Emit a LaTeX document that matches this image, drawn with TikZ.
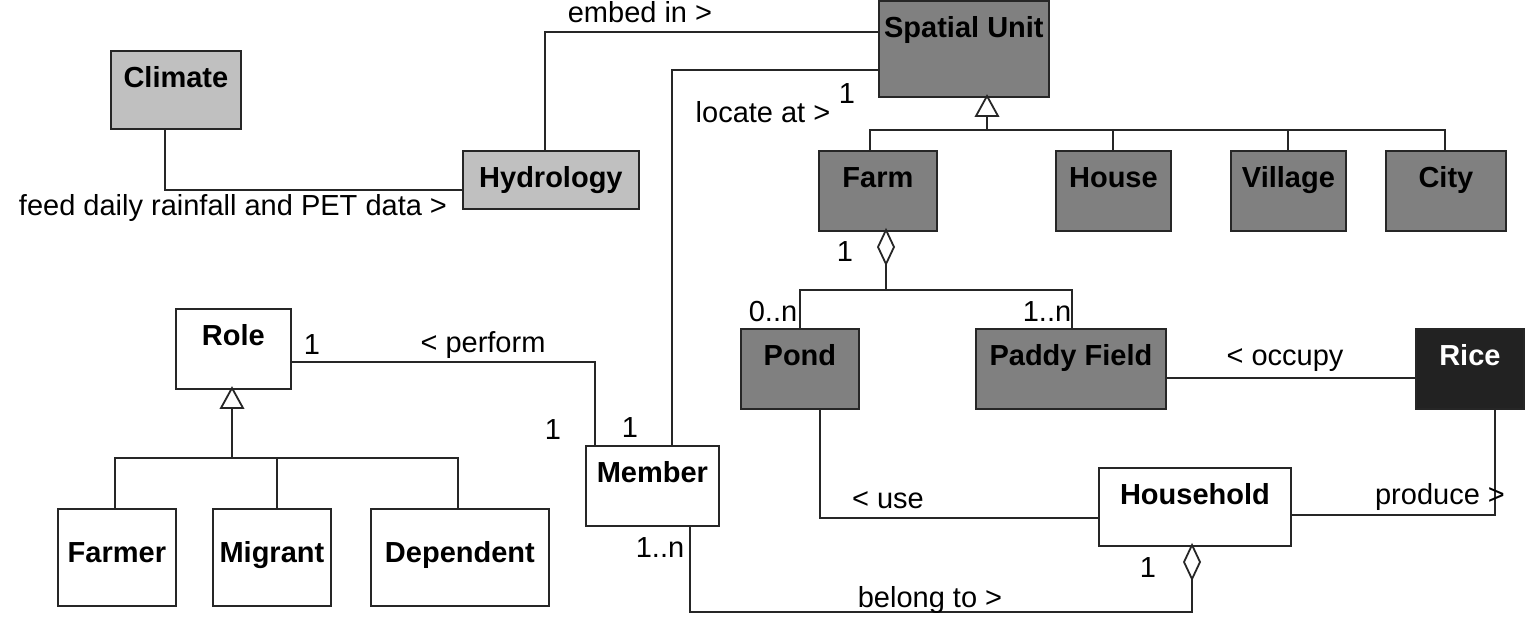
\documentclass[tikz,border=0pt]{standalone}
\usepackage{fontspec}
\setmainfont{Liberation Sans}
\usetikzlibrary{calc}
\definecolor{dg}{HTML}{808080}
\definecolor{lg}{HTML}{C0C0C0}
\definecolor{bk}{HTML}{222222}
\tikzset{
 btxt/.style={font=\fontsize{14.5}{16}\selectfont\bfseries,inner sep=0pt,anchor=base},
 ltxt/.style={font=\fontsize{14.5}{16}\selectfont,inner sep=0pt},
 ln/.style={draw=black!85,line width=0.9pt},
 boxst/.style={draw=black!85,line width=0.9pt,inner sep=0pt,anchor=north west},
}
\newcommand{\bx}[8]{%
 \pgfmathsetmacro{\ww}{(#4-#2)*0.5}\pgfmathsetmacro{\hh}{(#5-#3)*0.5}%
 \node[boxst,fill=#6,minimum width=\ww pt,minimum height=\hh pt] (#1) at (#2,#3) {};
 \node[btxt,text=#8] (#1t) at ($(#1.north)+(0,37)$) {#7};}
\newcommand{\dia}[2]{\draw[ln,fill=white] (#1,#2)--(#1-8,#2+17)--(#1,#2+34)--(#1+8,#2+17)--cycle;}
\newcommand{\tri}[2]{\draw[ln,fill=white] (#1,#2)--(#1-11,#2+20)--(#1+11,#2+20)--cycle;}
\begin{document}
\begin{tikzpicture}[x=0.5pt,y=-0.5pt]
\useasboundingbox[fill=white] (0,0) rectangle (1525,618);
\draw[ln] (545,150) |- (878,32);
\draw[ln] (165,128) |- (462,190);
\draw[ln] (672,445) |- (878,70);
\draw[ln] (987,116) -- (987,130);
\draw[ln] (870,150) |- (1445,130) -- (1445,150);
\draw[ln] (1113,130) -- (1113,150);
\draw[ln] (1288,130) -- (1288,150);
\draw[ln] (886,264) -- (886,290);
\draw[ln] (800,328) |- (1072,290) -- (1072,328);
\draw[ln] (232,408) -- (232,458);
\draw[ln] (115,508) |- (458,458) -- (458,508);
\draw[ln] (277,458) -- (277,508);
\draw[ln] (290,362) -| (595,445);
\draw[ln] (1165,378) -- (1415,378);
\draw[ln] (820,408) |- (1098,518);
\draw[ln] (1290,515) -| (1495,408);
\draw[ln] (690,525) |- (1192,612) -- (1192,579);
\bx{su}{878}{0}{1048}{96}{dg}{Spatial Unit}{black}
\bx{cl}{110}{50}{240}{128}{lg}{Climate}{black}
\bx{hy}{462}{150}{638}{208}{lg}{Hydrology}{black}
\bx{fa}{818}{150}{936}{230}{dg}{Farm}{black}
\bx{ho}{1055}{150}{1170}{230}{dg}{House}{black}
\bx{vi}{1230}{150}{1345}{230}{dg}{Village}{black}
\bx{ci}{1385}{150}{1505}{230}{dg}{City}{black}
\bx{ro}{175}{308}{290}{388}{white}{Role}{black}
\bx{fr}{57}{508}{175}{605}{white}{}{black}
\bx{mi}{212}{508}{330}{605}{white}{}{black}
\bx{de}{370}{508}{548}{605}{white}{}{black}
\node[btxt] (frt2) at ($(fr.north)+(0,54)$) {Farmer};
\node[btxt] (mit2) at ($(mi.north)+(0,54)$) {Migrant};
\node[btxt] (det2) at ($(de.north)+(0,54)$) {Dependent};
\bx{me}{585}{445}{718}{525}{white}{Member}{black}
\bx{po}{740}{328}{858}{408}{dg}{Pond}{black}
\bx{pf}{975}{328}{1165}{408}{dg}{Paddy Field}{black}
\bx{ri}{1415}{328}{1523}{408}{bk}{Rice}{white}
\bx{hh}{1098}{467}{1290}{545}{white}{Household}{black}
\tri{987}{96}
\tri{232}{388}
\dia{886}{230}
\dia{1192}{545}
\node[ltxt] (l1) at (640,12) {embed in >};
\node[ltxt] (l2) at (233,208) {feed daily rainfall and PET data >};
\node[ltxt] (l3) at (763,112) {locate at >};
\node[ltxt] (l4) at (847,94) {1};
\node[ltxt] (l5) at (630,428) {1};
\node[ltxt] (l6) at (845,252) {1};
\node[ltxt] (l7) at (773,312) {0..n};
\node[ltxt] (l8) at (1047,312) {1..n};
\node[ltxt] (l9) at (312,345) {1};
\node[ltxt] (l10) at (483,345) {< perform};
\node[ltxt] (l11) at (553,430) {1};
\node[ltxt] (l12) at (1285,360) {< occupy};
\node[ltxt] (l13) at (888,500) {< use};
\node[ltxt] (l14) at (1440,497) {produce >};
\node[ltxt] (l15) at (660,548) {1..n};
\node[ltxt] (l16) at (930,600) {belong to >};
\node[ltxt] (l17) at (1148,568) {1};
\end{tikzpicture}
\end{document}
